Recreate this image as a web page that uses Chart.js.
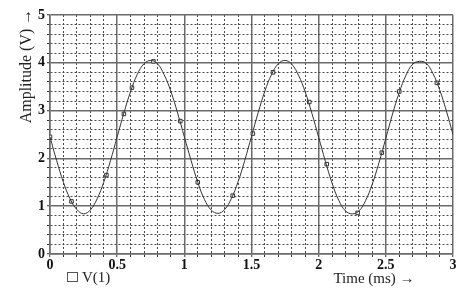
<!DOCTYPE html>
<html>
<head>
<meta charset="utf-8">
<script src="https://cdn.jsdelivr.net/npm/chart.js@4.4.1/dist/chart.umd.min.js"></script>
<style>
html,body{margin:0;padding:0;background:#fff;}
#wrap{width:474px;height:291px;position:relative;}
</style>
</head>
<body>
<div id="wrap"><canvas id="c" width="474" height="291"></canvas></div>
<script>
// Curve samples (time in ms, amplitude in V)
const curveTimes = [0,0.05,0.1,0.15,0.2,0.25,0.3,0.35,0.4,0.45,0.5,0.55,0.6,0.65,0.7,0.75,0.8,0.85,0.9,0.95,
  1,1.05,1.1,1.15,1.2,1.25,1.3,1.35,1.4,1.45,1.5,1.55,1.6,1.65,1.7,1.75,1.8,1.85,1.9,1.95,
  2,2.05,2.1,2.15,2.2,2.25,2.3,2.35,2.4,2.45,2.5,2.55,2.6,2.65,2.7,2.75,2.8,2.85,2.9,2.95,3];
const curveValues = [2.45,1.95,1.50,1.15,0.93,0.84,0.92,1.15,1.50,1.95,2.45,2.95,3.40,3.76,3.98,4.05,3.98,3.75,3.40,2.95,
  2.45,1.96,1.50,1.14,0.92,0.85,0.93,1.16,1.51,1.96,2.46,2.96,3.41,3.76,3.98,4.05,3.97,3.74,3.39,2.94,
  2.44,1.94,1.48,1.12,0.90,0.84,0.90,1.12,1.47,1.92,2.42,2.93,3.38,3.74,3.97,4.03,3.99,3.78,3.44,3.00,2.50];
// Marked sample points
const markerTimes = [0,0.16,0.42,0.55,0.61,0.77,0.97,1.10,1.36,1.51,1.66,1.93,2.06,2.29,2.47,2.60,2.88];
const markerValues = [2.45,1.10,1.65,2.93,3.48,4.03,2.78,1.50,1.22,2.52,3.80,3.18,1.88,0.86,2.12,3.40,3.58];
const seriesName = 'V(1)';
const xTitle = 'Time (ms) \u2192';
const yTitle = 'Amplitude (V) \u2192';

const serif = "'Liberation Serif','Times New Roman','DejaVu Serif',serif";
function isMajor(v, step){ const r = v/step; return Math.abs(r - Math.round(r)) < 1e-6; }

const textPlugin = {
  id:'texts',
  afterDraw(chart){
    const ctx = chart.ctx;
    ctx.save();
    ctx.fillStyle = '#222';
    ctx.font = '15px ' + serif;
    ctx.textAlign = 'center';
    ctx.textBaseline = 'middle';
    ctx.fillText(xTitle, 374, 279);
    ctx.save();
    ctx.translate(27, 66);
    ctx.rotate(-Math.PI/2);
    ctx.font = '16px ' + serif;
    ctx.fillText(yTitle, 0, 0);
    ctx.restore();
    // legend
    ctx.strokeStyle = '#555';
    ctx.lineWidth = 1;
    ctx.strokeRect(67.5, 272.5, 10, 9);
    ctx.textAlign = 'left';
    ctx.font = '15px ' + serif;
    ctx.fillText(seriesName, 82, 278);
    ctx.restore();
  }
};

new Chart(document.getElementById('c'), {
  type:'line',
  data:{
    datasets:[
      {
        label:'curve',
        data: curveTimes.map((t,i)=>({x:t,y:curveValues[i]})),
        borderColor:'#333',
        borderWidth:1,
        pointRadius:0,
        tension:0.4,
        fill:false
      },
      {
        label:seriesName,
        data: markerTimes.map((t,i)=>({x:t,y:markerValues[i]})),
        showLine:false,
        pointStyle:'rect',
        pointRadius:2.5,
        borderColor:'#333',
        backgroundColor:'#fff',
        borderWidth:1
      }
    ]
  },
  options:{
    responsive:false,
    animation:false,
    layout:{padding:{left:0,top:15,right:21,bottom:0}},
    plugins:{legend:{display:false},tooltip:{enabled:false}},
    scales:{
      x:{
        type:'linear',
        min:0,max:3,
        afterFit(s){ s.height = 37; },
        ticks:{
          stepSize:0.1,
          autoSkip:false,
          maxRotation:0,
          padding:0,
          color:'#111',
          font:{family:serif,size:14,weight:'bold'},
          callback(v){ return isMajor(v,0.5) ? String(Math.round(v*10)/10) : ''; }
        },
        grid:{
          color:c=> (c.tick && isMajor(c.tick.value,0.5)) ? '#6a6a6a' : '#4a4a4a',
          lineWidth:c=> (c.tick && isMajor(c.tick.value,0.5)) ? 1.5 : 1,
          tickLength:3,
          tickColor:'#333',
          tickWidth:1,
          tickBorderDash:[]
        },
        border:{
          color:'#6a6a6a',
          width:1.5,
          dash:c=> (c.tick && !isMajor(c.tick.value,0.5)) ? [2,2] : []
        }
      },
      y:{
        type:'linear',
        min:0,max:5,
        afterFit(s){ s.width = 50; },
        ticks:{
          stepSize:0.2,
          autoSkip:false,
          padding:2,
          color:'#111',
          font:{family:serif,size:14,weight:'bold'},
          callback(v){ return isMajor(v,1) ? String(Math.round(v)) : ''; }
        },
        grid:{
          color:c=> (c.tick && isMajor(c.tick.value,1)) ? '#6a6a6a' : '#4a4a4a',
          lineWidth:c=> (c.tick && isMajor(c.tick.value,1)) ? 1.5 : 1,
          tickLength:3,
          tickColor:'#333',
          tickWidth:1,
          tickBorderDash:[]
        },
        border:{
          color:'#6a6a6a',
          width:1.5,
          dash:c=> (c.tick && !isMajor(c.tick.value,1)) ? [2,2] : []
        }
      }
    }
  },
  plugins:[textPlugin]
});
</script>
</body>
</html>
